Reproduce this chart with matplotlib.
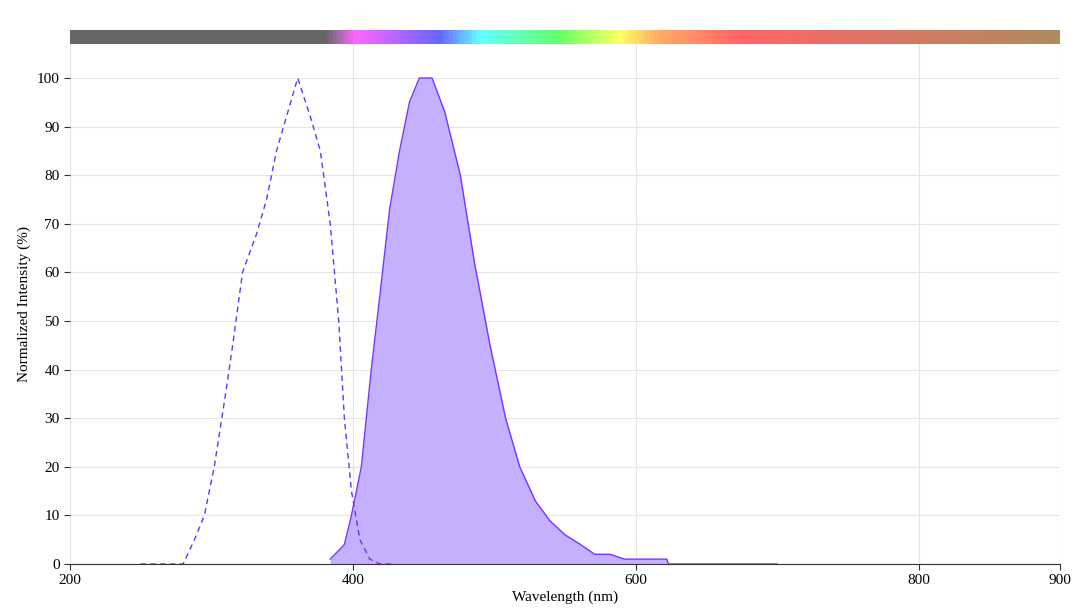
import matplotlib
matplotlib.use("Agg")
import matplotlib.pyplot as plt
import numpy as np
from matplotlib.colors import LinearSegmentedColormap

ex_wl = [250, 280, 288, 295, 302, 310, 315, 322, 332, 339, 346, 356, 361, 370, 377, 384, 390, 394, 399, 405, 412, 419, 430]
ex_val = [0, 0, 5, 10, 20, 35, 45, 60, 68, 75, 85, 95, 100, 92, 85, 70, 50, 30, 15, 5, 1, 0, 0]
em_wl = [384, 394, 399, 406, 413, 419, 426, 433, 440, 447, 456, 465, 476, 486, 497, 508, 518, 529, 539, 550, 561, 571, 582, 592, 622, 623, 700]
em_val = [1, 4, 10, 20, 40, 55, 73, 85, 95, 100, 100, 93, 80, 62, 45, 30, 20, 13, 9, 6, 4, 2, 2, 1, 1, 0, 0]
x_ticks = [200, 400, 600, 800, 900]
y_ticks = list(range(0, 101, 10))

plt.rcParams['font.family'] = ['Liberation Serif', 'DejaVu Serif']
fig = plt.figure(figsize=(10.8, 6.14), dpi=100)
ax = fig.add_axes([70/1080, 1-564/614, 990/1080, 520/614])
cb = fig.add_axes([70/1080, 1-44/614, 990/1080, 14/614])

stops = [(200, '#666666'), (380, '#666666'), (401, '#ff66ff'), (461, '#6666ff'), (490, '#66ffff'),
         (546, '#66ff66'), (589, '#ffff66'), (617, '#ffaa66'), (674, '#ff6666'), (900, '#b08a60')]
cmap = LinearSegmentedColormap.from_list('spec', [((w-200)/700, c) for w, c in stops])
cb.imshow(np.linspace(0, 1, 700)[None, :], aspect='auto', cmap=cmap, extent=[200, 900, 0, 1])
cb.axis('off')

ax.fill_between(em_wl, em_val, color='#c4b0ff', lw=0)
ax.plot(em_wl, em_val, color='#7733ff', lw=1)
ax.plot(ex_wl, ex_val, color='#6633ff', lw=1, ls=(0, (4, 3)))
ax.set_xlim(200, 900)
ax.set_ylim(0, 107)
ax.set_xticks(x_ticks)
ax.set_yticks(y_ticks)
ax.grid(True, color='#e5e5e5', lw=0.8)
ax.set_axisbelow(True)
for s in ['top', 'right', 'left']:
    ax.spines[s].set_visible(False)
ax.spines['bottom'].set_color('#333333')
ax.tick_params(labelsize=11, length=4, color='#333333')
ax.set_xlabel('Wavelength (nm)', fontsize=11, labelpad=2)
ax.set_ylabel('Normalized Intensity (%)', fontsize=11)
fig.savefig('out.png', dpi=100)
